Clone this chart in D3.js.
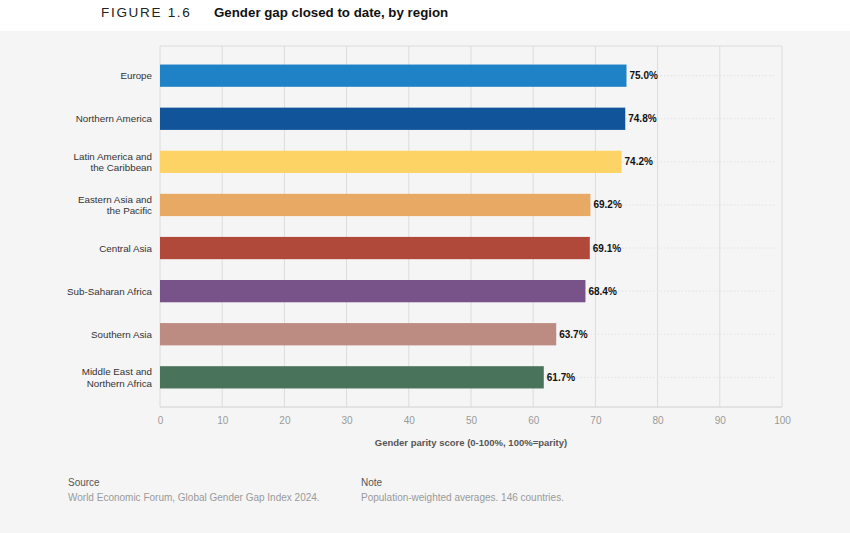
<!DOCTYPE html>
<html><head><meta charset="utf-8">
<script src="https://cdn.jsdelivr.net/npm/d3@7"></script>
<style>
html,body{margin:0;padding:0;background:#fff;}
svg{display:block;font-family:"Liberation Sans",Arial,sans-serif;}
</style></head>
<body>
<svg id="chart" width="850" height="533"></svg>
<script>
const regions = [
  ["Europe"],
  ["Northern America"],
  ["Latin America and", "the Caribbean"],
  ["Eastern Asia and", "the Pacific"],
  ["Central Asia"],
  ["Sub-Saharan Africa"],
  ["Southern Asia"],
  ["Middle East and", "Northern Africa"]
];
const scores = [75.0, 74.8, 74.2, 69.2, 69.1, 68.4, 63.7, 61.7];
const barColors = ["#1f82c7", "#11549a", "#fcd364", "#e8a965", "#b1493a", "#775389", "#bc8b81", "#49735a"];
const xTicks = [0, 10, 20, 30, 40, 50, 60, 70, 80, 90, 100];

const svg = d3.select("#chart");
svg.append("rect").attr("x", 0).attr("y", 31).attr("width", 850).attr("height", 502).attr("fill", "#f5f5f5");

// Title
svg.append("text").attr("x", 101).attr("y", 17).attr("font-size", 13.5)
  .attr("letter-spacing", "1.7px").attr("fill", "#222").text("FIGURE 1.6");
svg.append("text").attr("x", 214).attr("y", 17).attr("font-size", 13.3)
  .attr("font-weight", "bold").attr("fill", "#111").text("Gender gap closed to date, by region");

const m = {left: 160, right: 782, top: 46, bottom: 407};
const x = d3.scaleLinear().domain([0, 100]).range([m.left, m.right]);
const keys = regions.map(d => d.join(" "));
const y = d3.scaleBand().domain(keys).range([m.top, m.bottom]).paddingInner(0.483).paddingOuter(0.43);

const g = svg.append("g");
// grid
g.selectAll("line.grid").data(xTicks).join("line")
  .attr("x1", d => x(d)).attr("x2", d => x(d)).attr("y1", m.top).attr("y2", m.bottom)
  .attr("stroke", "#dcdcdc").attr("stroke-width", 1);
g.append("line").attr("x1", m.left).attr("x2", m.right).attr("y1", m.top).attr("y2", m.top).attr("stroke", "#dcdcdc");
g.append("line").attr("x1", m.left).attr("x2", m.right).attr("y1", m.bottom).attr("y2", m.bottom).attr("stroke", "#d0d0d0");
// dotted row lines
g.selectAll("line.row").data(keys).join("line")
  .attr("x1", x(0)).attr("x2", x(99)).attr("y1", d => y(d) + y.bandwidth() / 2).attr("y2", d => y(d) + y.bandwidth() / 2)
  .attr("stroke", "#e2e2e2").attr("stroke-dasharray", "1.5,2");

// bars
g.selectAll("rect.bar").data(scores).join("rect")
  .attr("x", x(0)).attr("y", (d, i) => y(keys[i]))
  .attr("width", d => x(d) - x(0)).attr("height", y.bandwidth())
  .attr("fill", (d, i) => barColors[i]);

// value labels
g.selectAll("text.val").data(scores).join("text")
  .attr("x", d => x(d) + 3).attr("y", (d, i) => y(keys[i]) + y.bandwidth() / 2 + 3.5)
  .attr("font-size", 10).attr("font-weight", "bold").attr("fill", "#111")
  .text(d => d.toFixed(1) + "%");

// category labels
regions.forEach((lines, i) => {
  const cy = y(keys[i]) + y.bandwidth() / 2;
  const tx = g.append("text").attr("text-anchor", "end").attr("font-size", 9.8).attr("fill", "#333");
  lines.forEach((ln, j) => {
    tx.append("tspan").attr("x", 152)
      .attr("y", cy + 3.5 + (j - (lines.length - 1) / 2) * 11.5).text(ln);
  });
});

// x axis tick labels
const ax = svg.append("g").attr("transform", `translate(0,${m.bottom})`)
  .call(d3.axisBottom(x).tickValues(xTicks).tickSize(0).tickPadding(10).tickFormat(d3.format("d")));
ax.select(".domain").remove();
ax.selectAll("text").attr("font-size", 10).attr("fill", "#9a9a9a").attr("font-family", "Liberation Sans, Arial, sans-serif");

svg.append("text").attr("x", (m.left + m.right) / 2).attr("y", 446).attr("text-anchor", "middle")
  .attr("font-size", 9.5).attr("font-weight", "bold").attr("fill", "#555")
  .text("Gender parity score (0-100%, 100%=parity)");

// footer
svg.append("text").attr("x", 68).attr("y", 486).attr("font-size", 10).attr("fill", "#555").text("Source");
svg.append("text").attr("x", 68).attr("y", 501).attr("font-size", 10).attr("fill", "#9a9a9a")
  .text("World Economic Forum, Global Gender Gap Index 2024.");
svg.append("text").attr("x", 361).attr("y", 486).attr("font-size", 10).attr("fill", "#555").text("Note");
svg.append("text").attr("x", 361).attr("y", 501).attr("font-size", 10).attr("fill", "#9a9a9a")
  .text("Population-weighted averages. 146 countries.");
</script>
</body></html>
